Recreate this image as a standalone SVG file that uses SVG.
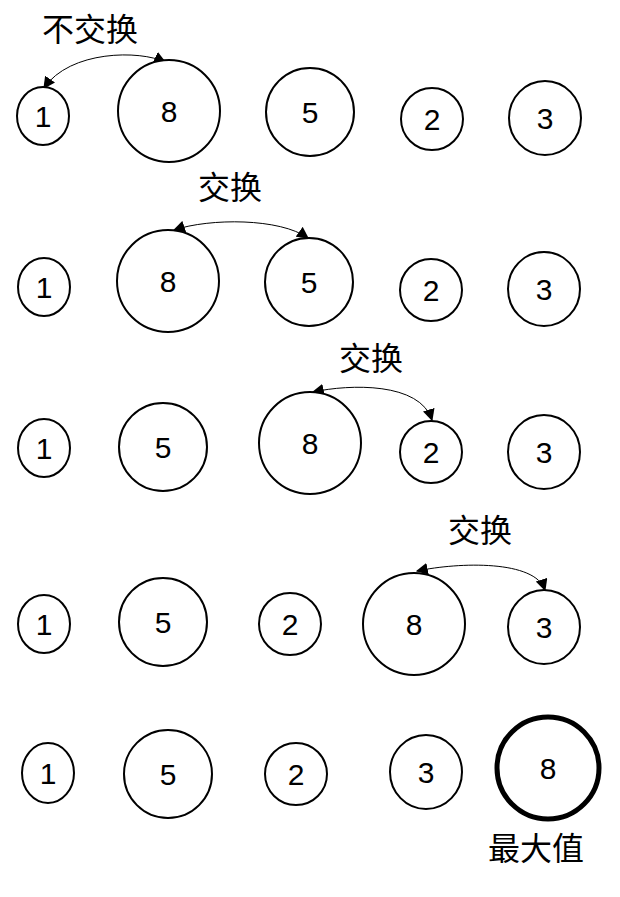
<svg xmlns="http://www.w3.org/2000/svg" width="620" height="897" viewBox="0 0 620 897">
<style>
.n ellipse{fill:#fff;stroke:#000;stroke-width:2}
.n text{font-family:"Liberation Sans",Arial,sans-serif;font-size:30px;text-anchor:middle;dominant-baseline:central}
.lbl{font-family:"Noto Sans CJK SC","Liberation Sans",sans-serif;font-size:32px;text-anchor:middle}
.c path{fill:none;stroke:#000;stroke-width:1}
</style>
<defs>
<marker id="ah" viewBox="0 0 10 10" refX="9" refY="5" markerWidth="12" markerHeight="12" markerUnits="userSpaceOnUse" orient="auto-start-reverse">
<path d="M0,0 L10,5 L0,10 z" fill="#000"/>
</marker>
</defs>
<rect width="620" height="897" fill="#fff"/>
<g class="c" id="connectors">
<path d="M165,62 C140,50 70,50 44,88" marker-start="url(#ah)" marker-end="url(#ah)"/>
<path d="M174,230 C210,218 280,218 308,238" marker-start="url(#ah)" marker-end="url(#ah)"/>
<path d="M313,392 C350,384 420,382 432,420" marker-start="url(#ah)" marker-end="url(#ah)"/>
<path d="M417,571 C460,562 535,560 545,590" marker-start="url(#ah)" marker-end="url(#ah)"/>
</g>
<text class="lbl" x="90" y="41">不交换</text>
<text class="lbl" x="230" y="199">交换</text>
<text class="lbl" x="371" y="370">交换</text>
<text class="lbl" x="480" y="542">交换</text>
<text class="lbl" x="536" y="860">最大值</text>
<g class="n" id="r1n1"><ellipse cx="43" cy="116" rx="26" ry="29"/><text x="43" y="116">1</text></g>
<g class="n" id="r1n8"><ellipse cx="169" cy="111" rx="51" ry="51"/><text x="169" y="111">8</text></g>
<g class="n" id="r1n5"><ellipse cx="310" cy="112" rx="44" ry="44"/><text x="310" y="112">5</text></g>
<g class="n" id="r1n2"><ellipse cx="432" cy="119" rx="31" ry="31"/><text x="432" y="119">2</text></g>
<g class="n" id="r1n3"><ellipse cx="545" cy="118" rx="36" ry="37"/><text x="545" y="118">3</text></g>
<g class="n" id="r2n1"><ellipse cx="44" cy="287" rx="26" ry="29"/><text x="44" y="287">1</text></g>
<g class="n" id="r2n8"><ellipse cx="168" cy="281" rx="51" ry="51"/><text x="168" y="281">8</text></g>
<g class="n" id="r2n5"><ellipse cx="309" cy="282" rx="44" ry="44"/><text x="309" y="282">5</text></g>
<g class="n" id="r2n2"><ellipse cx="431" cy="290" rx="31" ry="31"/><text x="431" y="290">2</text></g>
<g class="n" id="r2n3"><ellipse cx="544" cy="289" rx="36" ry="37"/><text x="544" y="289">3</text></g>
<g class="n" id="r3n1"><ellipse cx="44" cy="448" rx="26" ry="29"/><text x="44" y="448">1</text></g>
<g class="n" id="r3n5"><ellipse cx="163" cy="447" rx="44" ry="44"/><text x="163" y="447">5</text></g>
<g class="n" id="r3n8"><ellipse cx="310" cy="443" rx="51" ry="51"/><text x="310" y="443">8</text></g>
<g class="n" id="r3n2"><ellipse cx="431" cy="452" rx="31" ry="31"/><text x="431" y="452">2</text></g>
<g class="n" id="r3n3"><ellipse cx="544" cy="452" rx="36" ry="37"/><text x="544" y="452">3</text></g>
<g class="n" id="r4n1"><ellipse cx="44" cy="624" rx="26" ry="29"/><text x="44" y="624">1</text></g>
<g class="n" id="r4n5"><ellipse cx="163" cy="622" rx="44" ry="44"/><text x="163" y="622">5</text></g>
<g class="n" id="r4n2"><ellipse cx="290" cy="624" rx="31" ry="31"/><text x="290" y="624">2</text></g>
<g class="n" id="r4n8"><ellipse cx="414" cy="624" rx="51" ry="51"/><text x="414" y="624">8</text></g>
<g class="n" id="r4n3"><ellipse cx="544" cy="627" rx="36" ry="37"/><text x="544" y="627">3</text></g>
<g class="n" id="r5n1"><ellipse cx="48" cy="773" rx="26" ry="30"/><text x="48" y="773">1</text></g>
<g class="n" id="r5n5"><ellipse cx="168" cy="774" rx="44" ry="44"/><text x="168" y="774">5</text></g>
<g class="n" id="r5n2"><ellipse cx="296" cy="774" rx="31" ry="31"/><text x="296" y="774">2</text></g>
<g class="n" id="r5n3"><ellipse cx="426" cy="772" rx="36" ry="37"/><text x="426" y="772">3</text></g>
<g class="n" id="r5n8"><ellipse cx="548" cy="768" rx="51" ry="51" style="stroke-width:5"/><text x="548" y="768">8</text></g>
</svg>
